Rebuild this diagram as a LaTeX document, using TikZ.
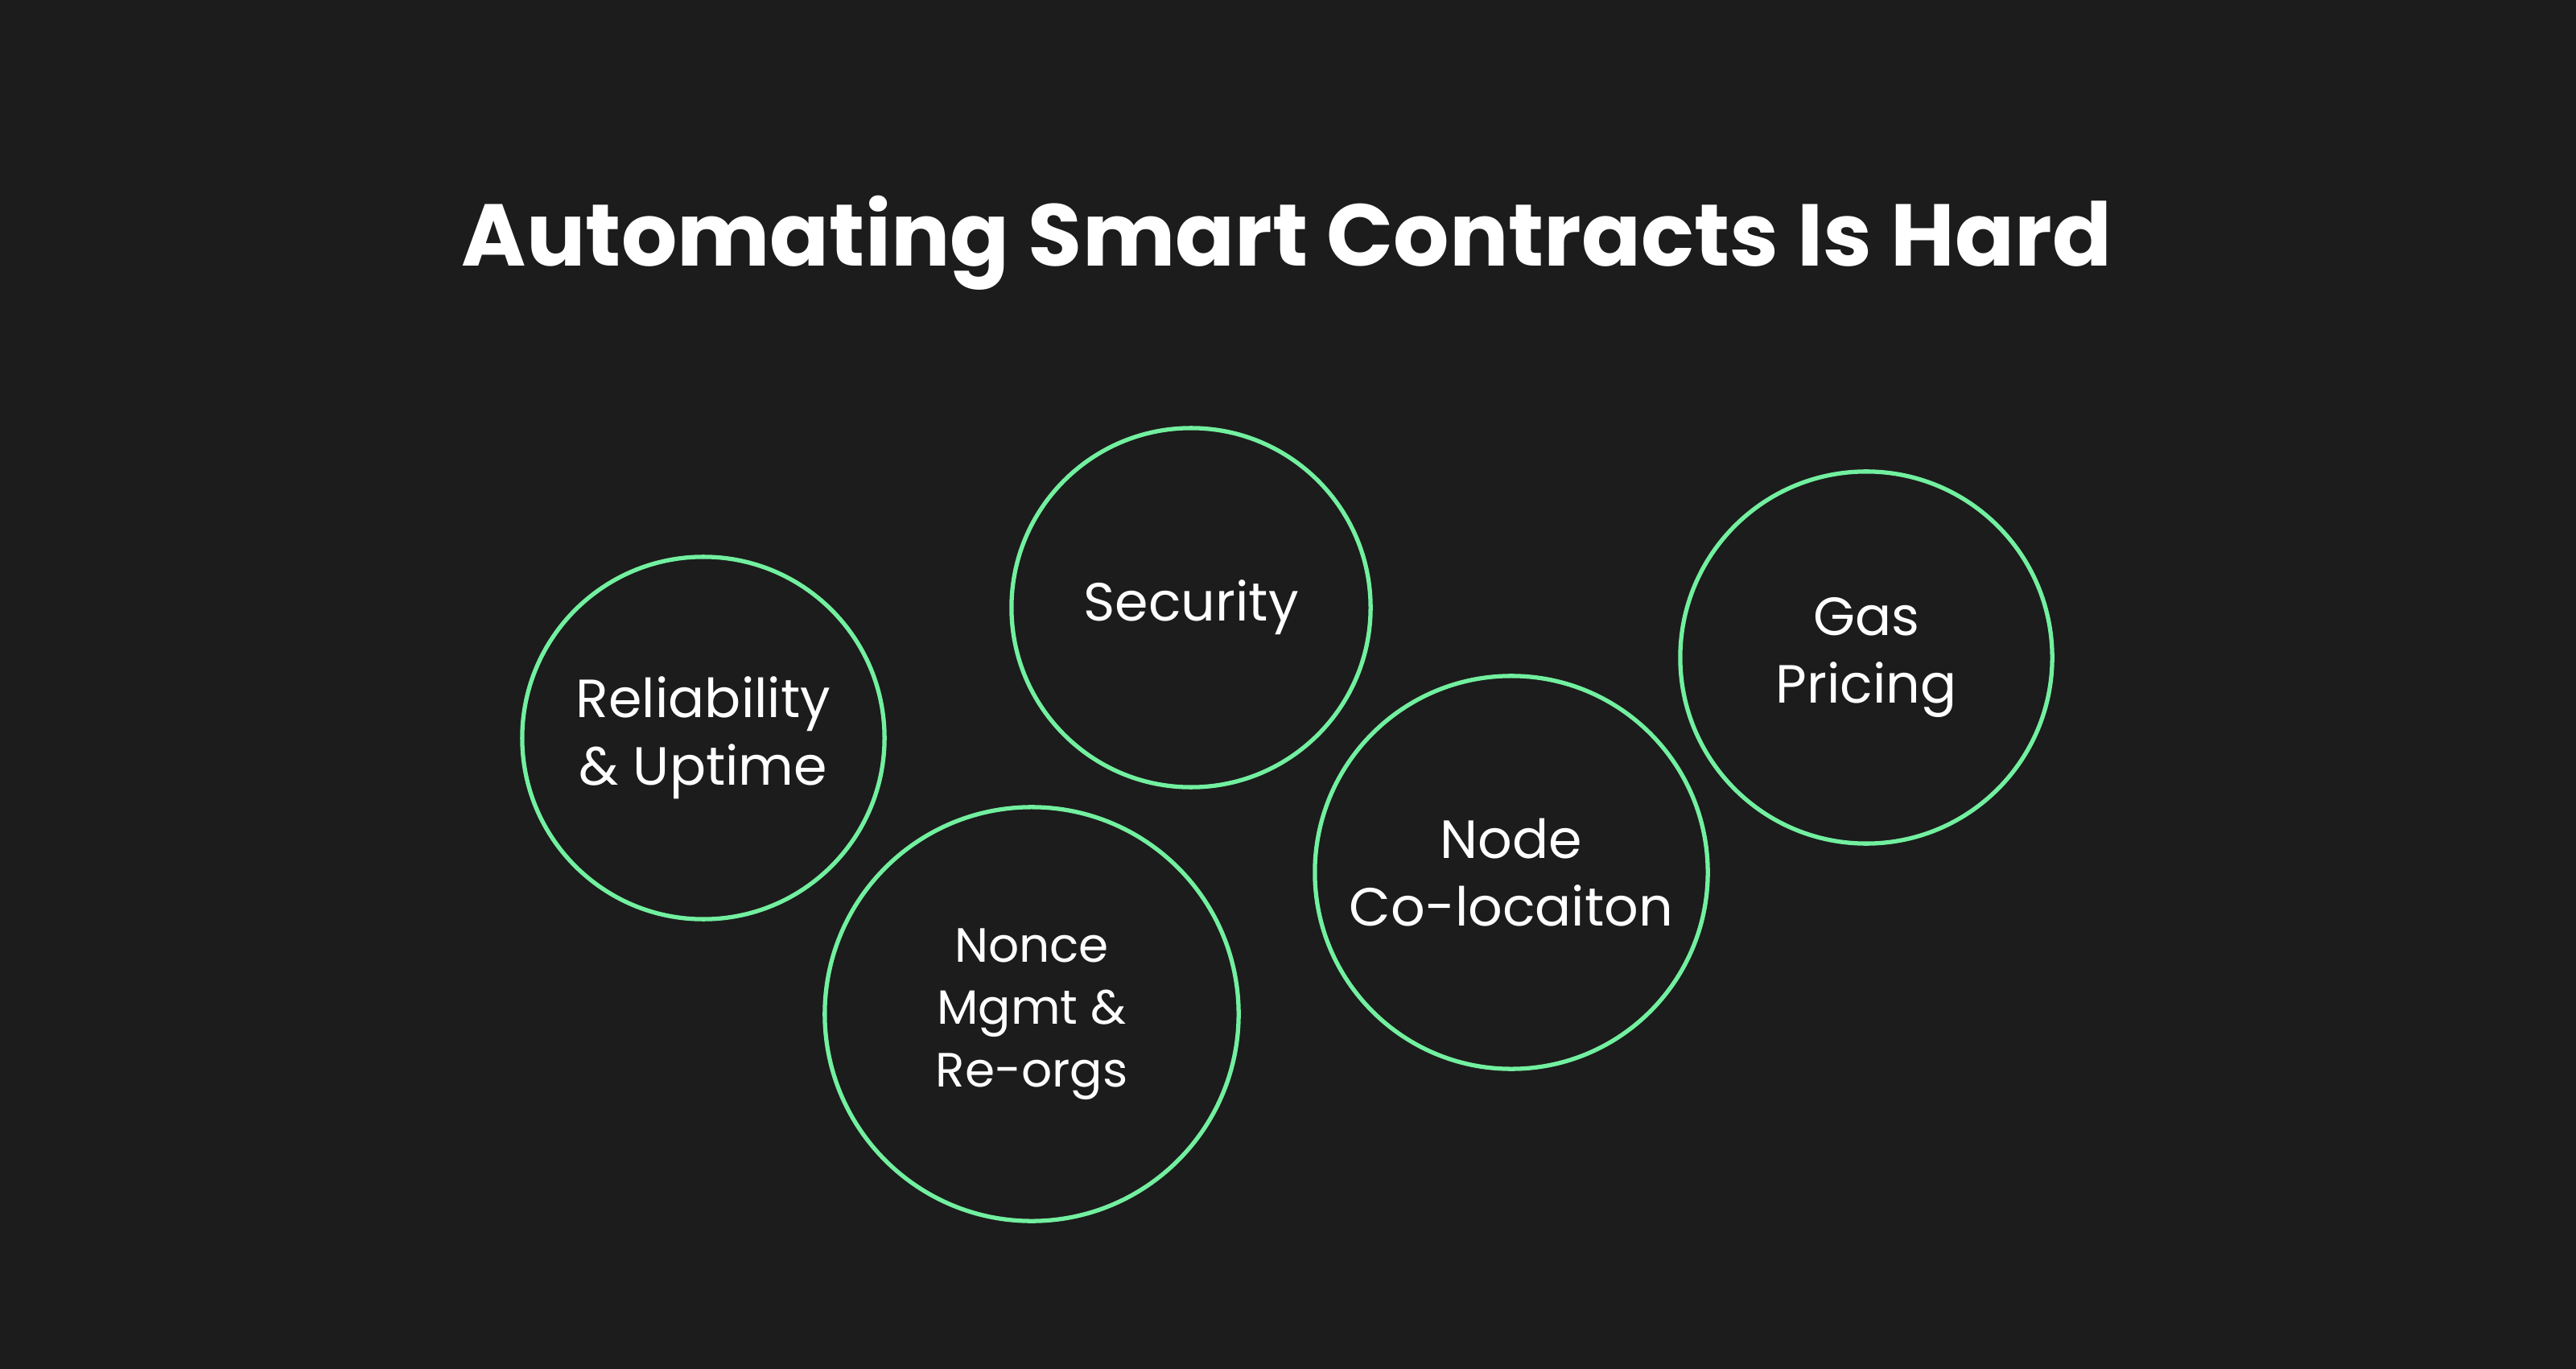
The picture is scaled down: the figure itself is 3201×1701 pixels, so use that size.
\documentclass[tikz,border=0pt]{standalone}
\usepackage{fontspec}
\setmainfont{Poppins}
\definecolor{bg}{HTML}{1C1C1C}
\definecolor{ring}{HTML}{72F0A0}
\begin{document}
\begin{tikzpicture}[x=0.01cm,y=-0.01cm,
  bubble/.style={circle,draw=ring,line width=1.5pt,text=white,align=center,inner sep=0pt,font=\fontsize{19}{24}\selectfont}]
\fill[bg] (0,0) rectangle (3201,1701);
\useasboundingbox (0,0) rectangle (3201,1701);
\node[text=white,font=\bfseries\fontsize{31}{36}\selectfont] (title) at (1599,302) {Automating Smart Contracts Is Hard};
\node[bubble,minimum size=450\pgflinewidth*0+4.5cm] (rel) at (874,917) {Reliability\\ \& Uptime};
\node[bubble,minimum size=4.46cm] (sec) at (1480,755) {Security};
\node[bubble,minimum size=4.62cm] (gas) at (2319,817) {Gas\\Pricing};
\node[bubble,minimum size=4.88cm] (node) at (1878,1084) {Node\\Co-locaiton};
\node[bubble,minimum size=5.14cm,font=\fontsize{17}{22}\selectfont] (nonce) at (1282,1260) {Nonce\\Mgmt \&\\Re-orgs};
\end{tikzpicture}
\end{document}
